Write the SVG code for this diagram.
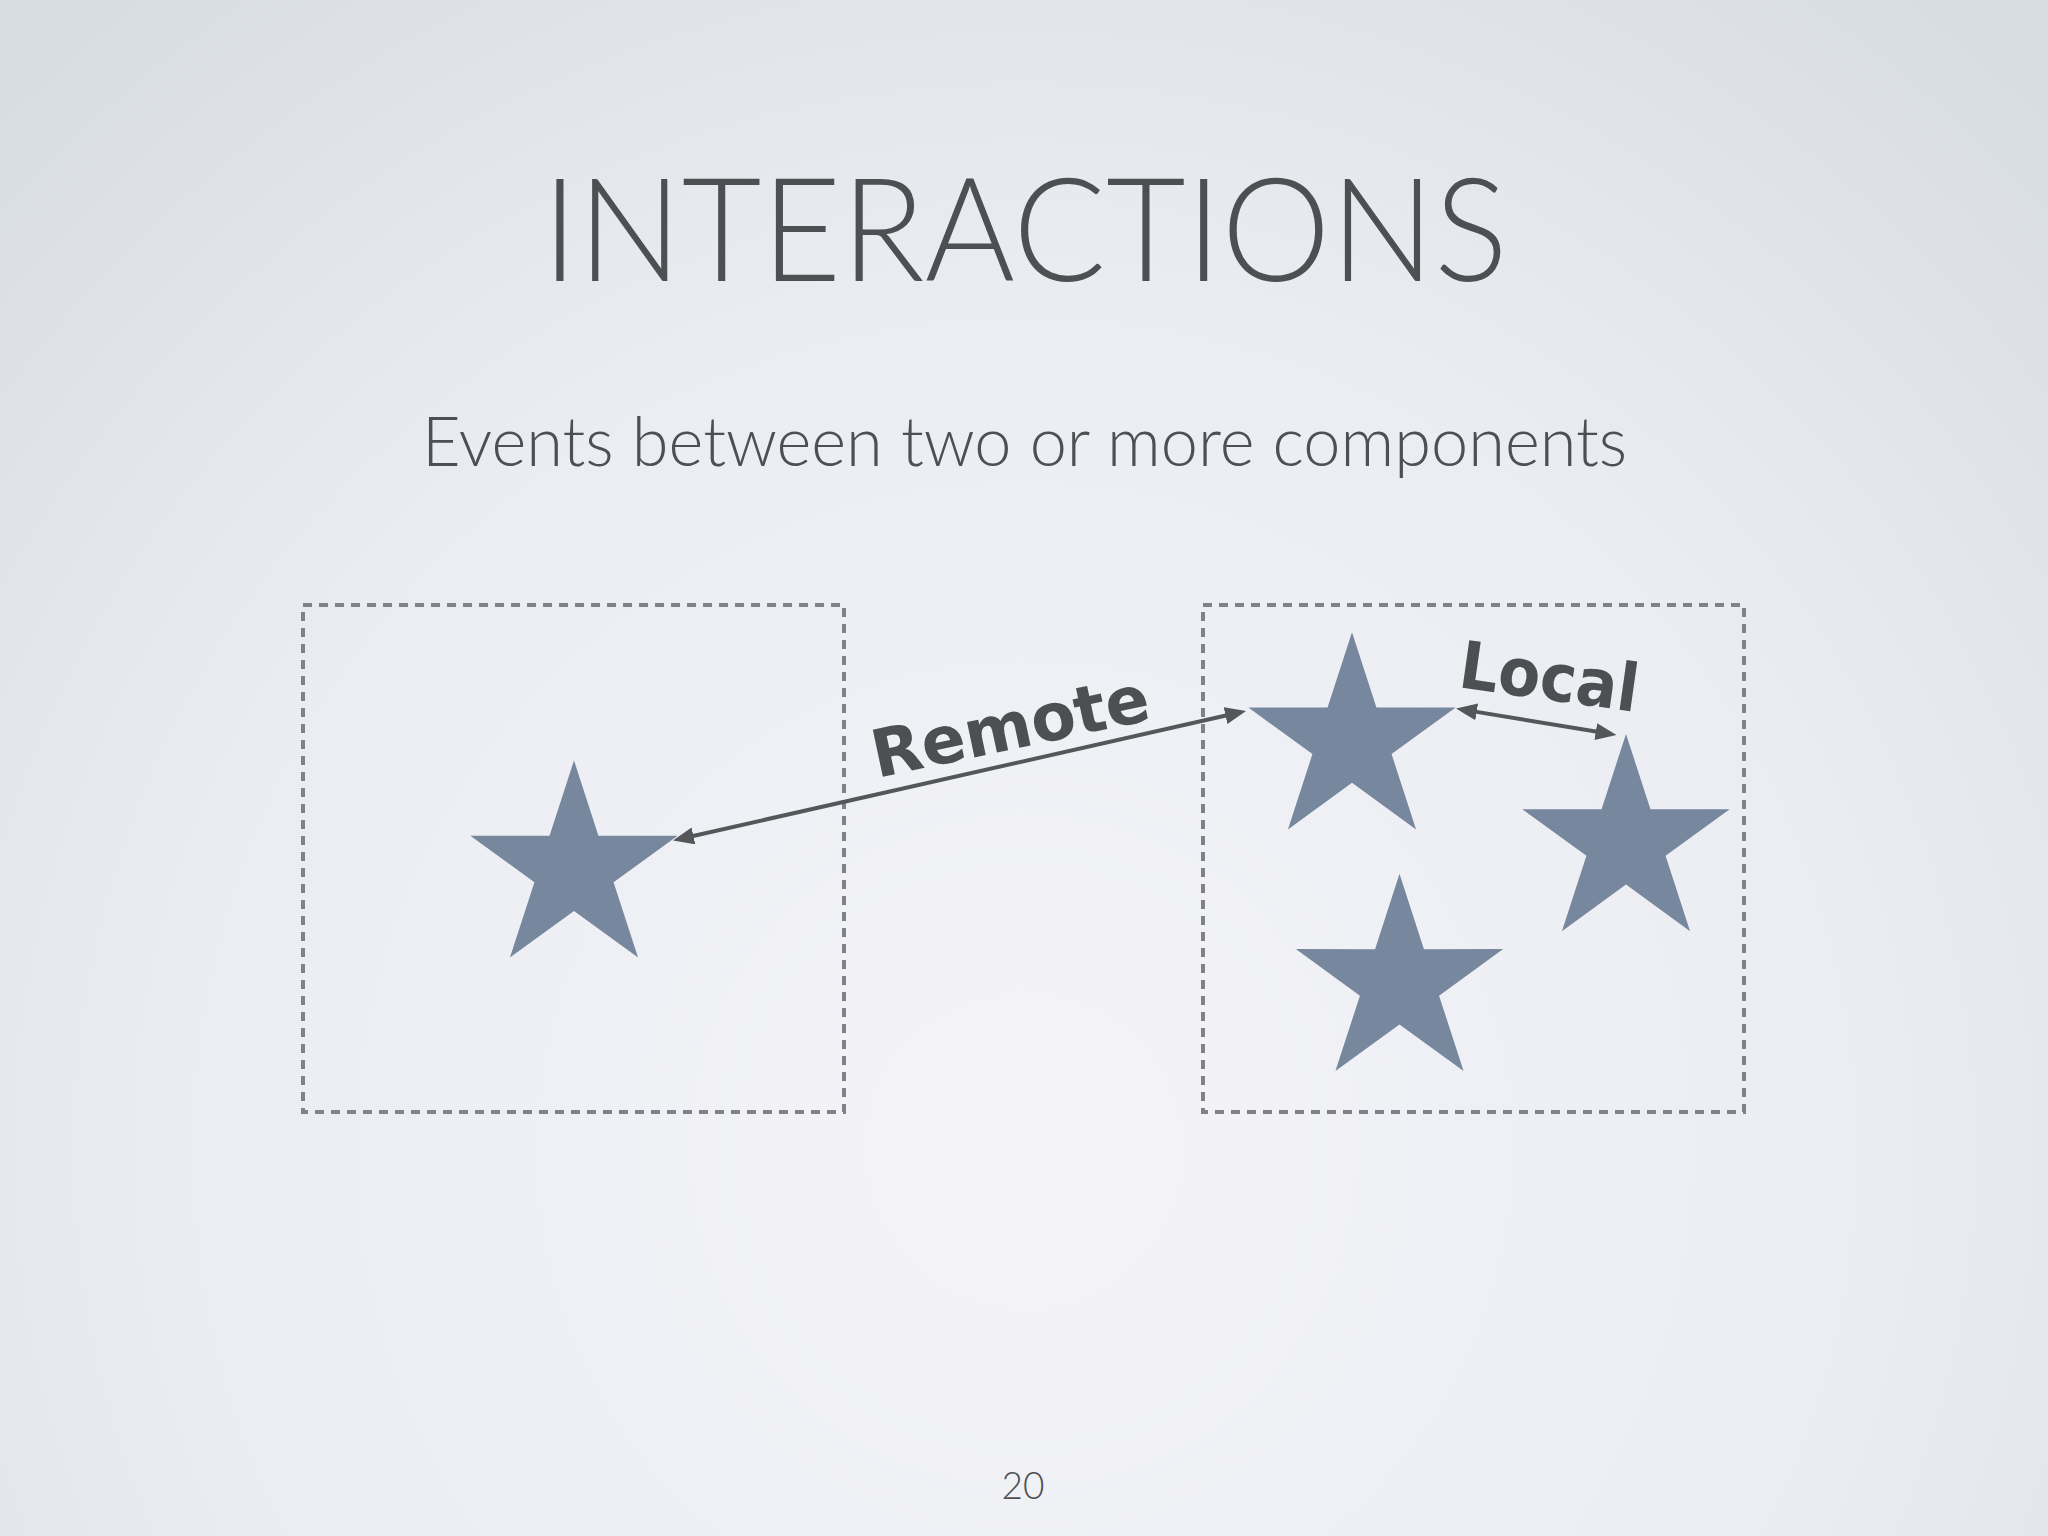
<svg xmlns="http://www.w3.org/2000/svg" width="2048" height="1536" viewBox="0 0 2048 1536">
  <defs>
    <radialGradient id="bg" cx="1024" cy="1150" r="1500" gradientUnits="userSpaceOnUse">
      <stop offset="0" stop-color="#f4f4f8"/>
      <stop offset="0.55" stop-color="#ebedf2"/>
      <stop offset="1" stop-color="#d7dce2"/>
    </radialGradient>
    <polygon id="star" points="0,-109 24.45,-33.65 103.67,-33.68 39.56,12.85 64.07,88.18 0,41.6 -64.07,88.18 -39.56,12.85 -103.67,-33.68 -24.45,-33.65"/>
    <marker id="arrow" markerUnits="userSpaceOnUse" markerWidth="22" markerHeight="18" refX="14" refY="8.5" orient="auto-start-reverse" viewBox="0 0 22 18">
      <path d="M0,0 L21,8.5 L0,17 z" fill="#55565a"/>
    </marker>
  </defs>
  <style>
    .title { font-family: Lato, "Liberation Sans", sans-serif; font-weight: 300; fill: #4e4f53; }
    .box { fill: none; stroke: #808189; stroke-width: 4; stroke-dasharray: 9 7; }
    .star { fill: #77879e; }
    .conn { stroke: #55565a; stroke-width: 4; fill: none; marker-start: url(#arrow); marker-end: url(#arrow); }
    .label { font-family: "DejaVu Sans", "Liberation Sans", sans-serif; font-weight: bold; font-size: 66px; fill: #4e4f53; }
  </style>
  <rect x="0" y="0" width="2048" height="1536" fill="url(#bg)"/>

  <g id="title">
    <text class="title" x="1025" y="281" font-size="145" text-anchor="middle" textLength="966" lengthAdjust="spacingAndGlyphs">INTERACTIONS</text>
  </g>
  <g id="subtitle">
    <text class="title" x="1024.6" y="466" font-size="68" text-anchor="middle" textLength="1205" lengthAdjust="spacingAndGlyphs">Events between two or more components</text>
  </g>

  <g id="box-left">
    <rect class="box" x="303" y="605" width="541" height="507"/>
  </g>
  <g id="box-right">
    <rect class="box" x="1203" y="605" width="541" height="507"/>
  </g>

  <g id="star-left"><use href="#star" class="star" x="574" y="869.4"/></g>
  <g id="star-a"><use href="#star" class="star" x="1352" y="741.2"/></g>
  <g id="star-b"><use href="#star" class="star" x="1626" y="843"/></g>
  <g id="star-c"><use href="#star" class="star" x="1399.5" y="982.8"/></g>

  <g id="connectors">
    <line class="conn" x1="679.8" y1="839.0" x2="1239.2" y2="712.5"/>
    <line class="conn" x1="1462.9" y1="709.6" x2="1609.6" y2="733.8"/>
    <text class="label" transform="translate(877 778) rotate(-12)" x="0" y="0" textLength="282" lengthAdjust="spacingAndGlyphs">Remote</text>
    <text class="label" transform="translate(1457 687) rotate(8)" x="0" y="0" textLength="180" lengthAdjust="spacingAndGlyphs">Local</text>
  </g>

  <g id="page-number">
    <text class="title" x="1023" y="1499" font-size="37" text-anchor="middle">20</text>
  </g>
</svg>
